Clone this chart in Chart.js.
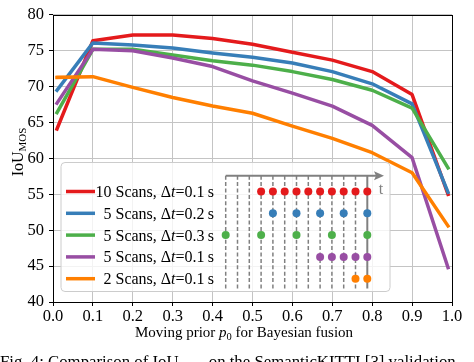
<!DOCTYPE html>
<html>
<head>
<meta charset="utf-8">
<script src="https://cdn.jsdelivr.net/npm/chart.js@4.4.0/dist/chart.umd.min.js"></script>
<style>
  html, body { margin: 0; padding: 0; background: #fff; overflow: hidden; }
  #wrap { width: 474px; height: 362px; position: relative; }
</style>
</head>
<body>
<div id="wrap"><canvas id="chart"></canvas></div>
<script>
// Data
const priorValues = [0.01, 0.1, 0.2, 0.3, 0.4, 0.5, 0.6, 0.7, 0.8, 0.9, 0.99];
const scans10dt01 = [64.1, 76.4, 77.2, 77.2, 76.7, 75.9, 74.8, 73.7, 72.1, 68.9, 55.0];
const scans5dt02 = [69.5, 76.1, 75.8, 75.4, 74.7, 74.1, 73.3, 72.1, 70.4, 67.6, 55.3];
const scans5dt03 = [66.4, 75.2, 75.2, 74.4, 73.6, 73.0, 72.1, 71.0, 69.5, 67.0, 58.7];
const scans5dt01 = [67.7, 75.2, 75.0, 74.0, 72.8, 70.8, 69.1, 67.3, 64.6, 60.1, 44.8];
const scans2dt01 = [71.3, 71.4, 69.9, 68.5, 67.3, 66.3, 64.5, 62.8, 60.8, 58.0, 50.6];

const seriesNames = ['10 Scans', '5 Scans', '5 Scans', '5 Scans', '2 Scans'];
const seriesDt = ['0.1', '0.2', '0.3', '0.1', '0.1'];

// scan frames used by each setting in the inset timeline (frame 12 = now)
const frameCount = 13;
const frames10dt01 = [3, 4, 5, 6, 7, 8, 9, 10, 11, 12];
const frames5dt02 = [4, 6, 8, 10, 12];
const frames5dt03 = [0, 3, 6, 9, 12];
const frames5dt01 = [8, 9, 10, 11, 12];
const frames2dt01 = [11, 12];

const xTickValues = [0.0, 0.1, 0.2, 0.3, 0.4, 0.5, 0.6, 0.7, 0.8, 0.9, 1.0];
const yTickValues = [40, 45, 50, 55, 60, 65, 70, 75, 80];

const colors = ['#e41a1c', '#377eb8', '#4daf4a', '#984ea3', '#ff7f00'];
const SERIF = '"Liberation Serif", "DejaVu Serif", serif';

const allSeries = [scans10dt01, scans5dt02, scans5dt03, scans5dt01, scans2dt01];
const allFrames = [frames10dt01, frames5dt02, frames5dt03, frames5dt01, frames2dt01];

function drawParts(ctx, parts, x, y, align) {
    let total = 0;
    parts.forEach(p => { ctx.font = p.font; p.w = ctx.measureText(p.text).width; total += p.w; });
    let cx = align === 'right' ? x - total : align === 'center' ? x - total / 2 : x;
    parts.forEach(p => {
        ctx.font = p.font;
        ctx.fillText(p.text, cx, y + (p.dy || 0));
        cx += p.w;
    });
}

// legend box with the timeline inset
const legendPlugin = {
    id: 'scanLegend',
    afterDatasetsDraw(chart) {
        const ctx = chart.ctx;
        ctx.save();
        // box
        const bx = 61, by = 162.5, bw = 329, bh = 129, r = 4;
        ctx.beginPath();
        ctx.roundRect(bx, by, bw, bh, r);
        ctx.fillStyle = 'rgba(255,255,255,0.8)';
        ctx.fill();
        ctx.strokeStyle = '#cccccc';
        ctx.lineWidth = 1;
        ctx.stroke();

        const rowY = i => 191.5 + i * 21.8;
        ctx.fillStyle = '#000';
        ctx.textBaseline = 'alphabetic';
        seriesNames.forEach((name, i) => {
            const y = rowY(i);
            ctx.strokeStyle = colors[i];
            ctx.lineWidth = 3.5;
            ctx.lineCap = 'butt';
            ctx.beginPath();
            ctx.moveTo(66, y);
            ctx.lineTo(95, y);
            ctx.stroke();
            ctx.fillStyle = '#000';
            drawParts(ctx, [
                { text: name + ', \u0394', font: '16px ' + SERIF },
                { text: 't', font: 'italic 16px ' + SERIF },
                { text: '=' + seriesDt[i] + '\u2009s', font: '16px ' + SERIF }
            ], 214, y + 5.5, 'right');
        });

        // timeline
        const fx = i => 225.7 + i * 11.8;
        const top = 175.7, bottom = 288.5;
        ctx.strokeStyle = '#808080';
        ctx.lineWidth = 1.5;
        ctx.setLineDash([4, 2.4]);
        for (let i = 0; i < frameCount - 1; i++) {
            ctx.beginPath();
            ctx.moveTo(fx(i), top);
            ctx.lineTo(fx(i), bottom);
            ctx.stroke();
        }
        ctx.setLineDash([]);
        ctx.lineWidth = 2;
        ctx.beginPath();
        ctx.moveTo(fx(frameCount - 1), bottom);
        ctx.lineTo(fx(frameCount - 1), top);
        ctx.stroke();
        ctx.beginPath();
        ctx.moveTo(fx(0), top);
        ctx.lineTo(376, top);
        ctx.stroke();
        ctx.fillStyle = '#808080';
        ctx.beginPath();
        ctx.moveTo(384, top);
        ctx.lineTo(374, top - 4.5);
        ctx.lineTo(376, top);
        ctx.lineTo(374, top + 4.5);
        ctx.closePath();
        ctx.fill();
        ctx.font = '16px ' + SERIF;
        ctx.textAlign = 'center';
        ctx.fillText('t', 381, 194);
        ctx.textAlign = 'left';

        allFrames.forEach((frames, i) => {
            ctx.fillStyle = colors[i];
            frames.forEach(f => {
                ctx.beginPath();
                ctx.arc(fx(f), rowY(i), 4, 0, Math.PI * 2);
                ctx.fill();
            });
        });
        ctx.restore();
    },
    afterDraw(chart) {
        const ctx = chart.ctx;
        const a = chart.chartArea;
        ctx.save();
        // frame
        ctx.strokeStyle = '#000';
        ctx.lineWidth = 1;
        ctx.strokeRect(Math.round(a.left) + 0.5, Math.round(a.top) + 0.5,
            Math.round(a.right - a.left), Math.round(a.bottom - a.top));

        ctx.fillStyle = '#000';
        ctx.textBaseline = 'alphabetic';
        // x title
        drawParts(ctx, [
            { text: 'Moving prior ', font: '15px ' + SERIF },
            { text: 'p', font: 'italic 15px ' + SERIF },
            { text: '0', font: '10.5px ' + SERIF, dy: 3 },
            { text: ' for Bayesian fusion', font: '15px ' + SERIF }
        ], 244, 337, 'center');

        // y title
        ctx.save();
        ctx.translate(23, 152);
        ctx.rotate(-Math.PI / 2);
        drawParts(ctx, [
            { text: 'IoU', font: '16px ' + SERIF },
            { text: 'MOS', font: '11px ' + SERIF, dy: 3 }
        ], 0, 0, 'center');
        ctx.restore();

        // caption (cut off by the bottom edge)
        drawParts(ctx, [
            { text: 'Fig. 4: Comparison of IoU', font: '16.8px ' + SERIF },
            { text: 'MOS', font: '12px ' + SERIF, dy: 4 },
            { text: ' on the SemanticKITTI [3] validation', font: '16.8px ' + SERIF }
        ], 0, 367, 'left');
        ctx.restore();
    }
};

const ctx = document.getElementById('chart').getContext('2d');
const chart = new Chart(ctx, {
    type: 'line',
    data: {
        datasets: allSeries.map((vals, i) => ({
            label: seriesNames[i] + ', \u0394t=' + seriesDt[i] + ' s',
            data: priorValues.map((p, k) => ({ x: p, y: vals[k] })),
            borderColor: colors[i],
            borderWidth: 3.5,
            pointRadius: 0,
            tension: 0,
            borderJoinStyle: 'round',
            borderCapStyle: 'square',
            order: allSeries.length - 1 - i
        }))
    },
    options: {
        responsive: true,
        maintainAspectRatio: false,
        animation: false,
        layout: { padding: { top: 5, right: 22, left: 0, bottom: 0 } },
        plugins: { legend: { display: false }, tooltip: { enabled: false } },
        scales: {
            x: {
                type: 'linear',
                min: 0, max: 1,
                afterBuildTicks: s => { s.ticks = xTickValues.map(v => ({ value: v })); },
                afterFit: s => { s.height = 60; },
                ticks: {
                    callback: v => v.toFixed(1),
                    font: { family: SERIF, size: 16.5 },
                    color: '#000',
                    padding: 1,
                    maxRotation: 0,
                    autoSkip: false
                },
                grid: { color: '#c4c4c4', lineWidth: 1, tickColor: '#000', tickLength: 4 },
                border: { display: false }
            },
            y: {
                min: 40, max: 80,
                afterBuildTicks: s => { s.ticks = yTickValues.map(v => ({ value: v })); },
                afterFit: s => { s.width = 53; },
                ticks: {
                    font: { family: SERIF, size: 16.5 },
                    color: '#000',
                    padding: 5,
                    autoSkip: false
                },
                grid: { color: '#c4c4c4', lineWidth: 1, tickColor: '#000', tickLength: 4 },
                border: { display: false }
            }
        }
    },
    plugins: [legendPlugin]
});
</script>
</body>
</html>
